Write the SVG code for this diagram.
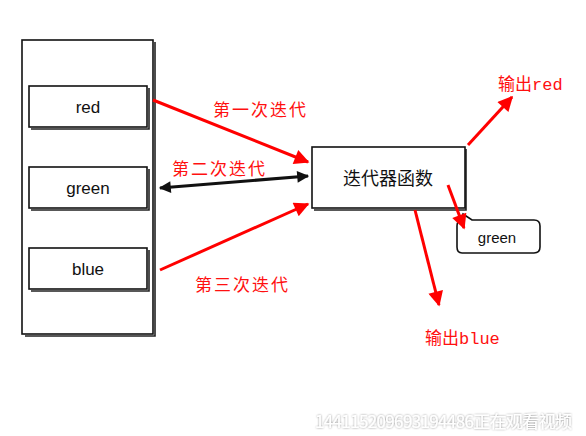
<svg xmlns="http://www.w3.org/2000/svg" width="586" height="436" viewBox="0 0 586 436">
<defs>
<style>
.box{fill:#fff;stroke:#111;stroke-width:1.6}
.shadow{fill:none;stroke:#222;stroke-width:1.6}
.lbl{font-family:"Liberation Sans","Noto Sans",sans-serif;font-size:17px;fill:#111;text-anchor:middle}
.red{font-family:"Noto Sans CJK SC",sans-serif;font-size:17px;fill:#ff1010}
.out{font-family:"Liberation Mono","Noto Sans CJK SC",monospace;font-size:17px;fill:#ff1010}
.ra{stroke:#ff0000;stroke-width:3;fill:none}
.ba{stroke:#111;stroke-width:3;fill:none}
</style>
<marker id="ah" viewBox="0 0 10 10" refX="9" refY="5" markerWidth="6" markerHeight="5" markerUnits="strokeWidth" orient="auto-start-reverse">
<path d="M0,0 L10,5 L0,10 z" fill="#ff0000"/>
</marker>
<marker id="bh" viewBox="0 0 10 10" refX="9" refY="5" markerWidth="4.5" markerHeight="4" markerUnits="strokeWidth" orient="auto-start-reverse">
<path d="M0,0 L10,5 L0,10 z" fill="#111"/>
</marker>
<filter id="glow" x="-5%" y="-30%" width="110%" height="160%">
<feGaussianBlur in="SourceAlpha" stdDeviation="1.2"/>
<feComponentTransfer><feFuncA type="linear" slope="0.45"/></feComponentTransfer>
<feMerge><feMergeNode/><feMergeNode in="SourceGraphic"/></feMerge>
</filter>
</defs>
<rect width="586" height="436" fill="#fff"/>

<g id="container">
<path class="shadow" d="M25,336 L155,336 L155,42"/>
<rect class="box" x="22" y="40" width="131" height="294"/>
</g>
<g id="node-red">
<path class="shadow" d="M31,129 L149,129 L149,88"/>
<rect class="box" x="29" y="86" width="118" height="41"/>
<text class="lbl" x="88" y="113">red</text>
</g>
<g id="node-green">
<path class="shadow" d="M31,210 L149,210 L149,169"/>
<rect class="box" x="29" y="167" width="118" height="41"/>
<text class="lbl" x="88" y="194">green</text>
</g>
<g id="node-blue">
<path class="shadow" d="M31,291 L149,291 L149,250"/>
<rect class="box" x="29" y="248" width="118" height="41"/>
<text class="lbl" x="88" y="275">blue</text>
</g>
<g id="node-func">
<path class="shadow" d="M314,210 L466,210 L466,149"/>
<rect class="box" x="312" y="147" width="153" height="61"/>
<text x="388" y="185" font-family="Noto Sans CJK SC,sans-serif" font-size="18" fill="#111" text-anchor="middle">迭代器函数</text>
</g>
<g id="node-green-out">
<path class="box" d="M463,214 L472,220 L534,220 Q540,220 540,226 L540,247 Q540,253 534,253 L462,253 Q457,253 457,247 L457,226 Q457,221 461,220 Z"/>
<text class="lbl" x="497" y="243" style="font-size:15px">green</text>
</g>

<g id="connectors">
<line class="ra" x1="153" y1="100" x2="308" y2="162" marker-end="url(#ah)"/>
<line class="ba" x1="160" y1="188" x2="308" y2="176" marker-start="url(#bh)" marker-end="url(#bh)"/>
<line class="ra" x1="160" y1="270" x2="308" y2="204" marker-end="url(#ah)"/>
<line class="ra" x1="468" y1="145" x2="512" y2="97" marker-end="url(#ah)"/>
<line class="ra" x1="448" y1="185" x2="464" y2="228" marker-end="url(#ah)"/>
<line class="ra" x1="415" y1="210" x2="439" y2="305" marker-end="url(#ah)"/>
</g>

<g id="labels">
<text class="red" x="213" y="116" textLength="93">第一次迭代</text>
<text class="red" x="172" y="175" textLength="93">第二次迭代</text>
<text class="red" x="195" y="291" textLength="93">第三次迭代</text>
<text class="out" x="498" y="90">输出red</text>
<text class="out" x="425" y="344">输出blue</text>
</g>

<text x="315" y="428" font-family="Noto Sans CJK SC,sans-serif" font-size="17" fill="#fff" textLength="257" filter="url(#glow)">144115209693194486正在观看视频</text>
</svg>
